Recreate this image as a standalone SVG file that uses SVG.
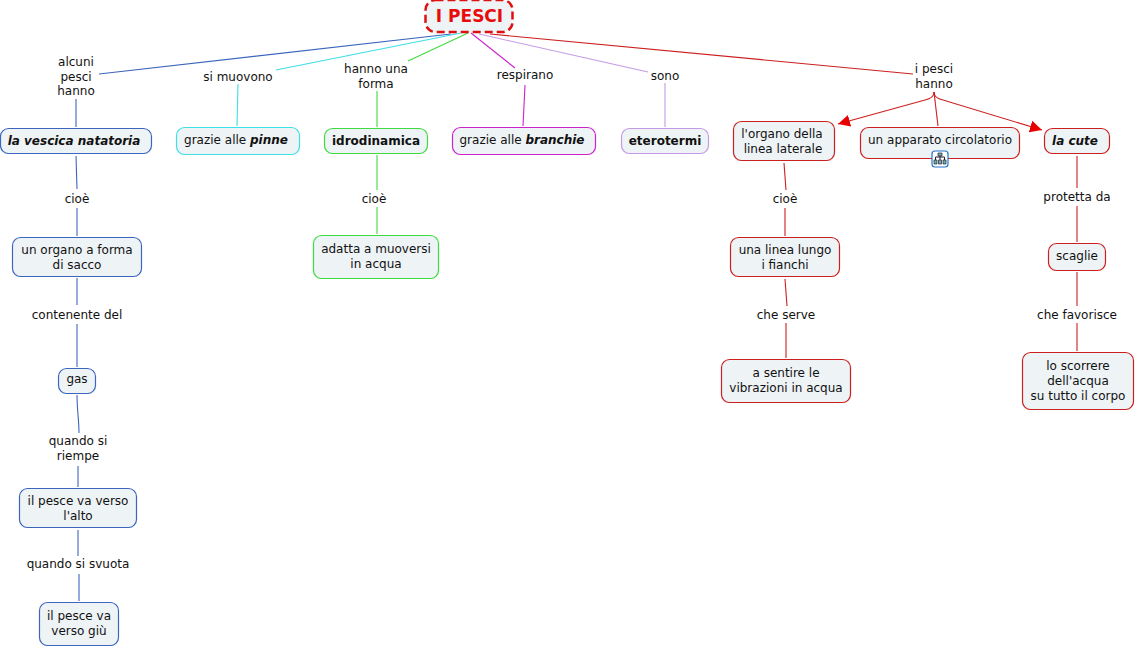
<svg xmlns="http://www.w3.org/2000/svg" width="1136" height="647" viewBox="0 0 1136 647">
<style>
text{font-family:"DejaVu Sans",Verdana,sans-serif;font-size:12px;fill:#111;text-anchor:middle}
.b{font-weight:700}.bi{font-weight:700;font-style:italic}
rect{fill:#eef3f6;stroke-width:1.2}
.blue rect{stroke:#3c66bd}.cyan rect{stroke:#3fdfe6}.green rect{stroke:#3fdc3f}.mag rect{stroke:#cc22cc}.lil rect{stroke:#c49ae6}.red rect{stroke:#cc1f1f}
#connectors path{fill:none;stroke-width:1.1}
.cb{stroke:#3c66bd}.cc{stroke:#3fdfe6}.cg{stroke:#3fdc3f}.cm{stroke:#cc22cc}.cl{stroke:#c49ae6}.cr{stroke:#cc1f1f}
</style>
<defs><marker id="ah" markerUnits="userSpaceOnUse" markerWidth="14" markerHeight="13" refX="12" refY="6" orient="auto"><path d="M0 0L12 6L0 12z" fill="#e80000"/></marker></defs>
<g id="connectors">
<path class="cb" d="M451 34L99 74"/><path class="cb" d="M76 99V127"/><path class="cb" d="M76 156L77 189"/><path class="cb" d="M77 208V236"/><path class="cb" d="M77 278V305"/><path class="cb" d="M77 324V367"/><path class="cb" d="M77 395C77 410 79 420 79 433"/><path class="cb" d="M78 466V487"/><path class="cb" d="M78 530V556"/><path class="cb" d="M79 574V601"/>
<path class="cc" d="M461 33L276 70"/><path class="cc" d="M238 84L237 126"/>
<path class="cg" d="M468 33L408 61"/><path class="cg" d="M377 91V127"/><path class="cg" d="M377 155V190"/><path class="cg" d="M377 207V234"/>
<path class="cm" d="M471 33L515 68"/><path class="cm" d="M525 85L523 126"/>
<path class="cl" d="M479 34L648 72"/><path class="cl" d="M665 83V127"/>
<path class="cr" d="M490 34L913 74"/>
<path class="cr" d="M934 92C934 97 930 99 925 100L838 124" marker-end="url(#ah)"/><path class="cr" d="M934 92L938 126"/><path class="cr" d="M934 92C934 97 938 99 943 100L1042 130" marker-end="url(#ah)"/>
<path class="cr" d="M784 163L786 190"/><path class="cr" d="M785 208V236"/><path class="cr" d="M785 279L787 306"/><path class="cr" d="M786 323V358"/>
<path class="cr" d="M1077 156V188"/><path class="cr" d="M1077 206V242"/><path class="cr" d="M1077 272V306"/><path class="cr" d="M1077 323V351"/>
</g>
<g id="n-root" class="red"><rect x="425.500" y="0" width="87" height="32" rx="10" style="stroke:#e01010;stroke-width:2.500;stroke-dasharray:8 4"/><text x="469.500" y="22" class="b" style="font-size:17px;fill:#e80c0c">I PESCI</text></g>
<g id="l1"><text x="76" y="66">alcuni</text><text x="76" y="81">pesci</text><text x="76" y="95">hanno</text></g>
<g id="l2"><text x="238" y="81">si muovono</text></g>
<g id="l3"><text x="376" y="73">hanno una</text><text x="376" y="88">forma</text></g>
<g id="l4"><text x="525" y="79">respirano</text></g>
<g id="l5"><text x="665" y="80">sono</text></g>
<g id="l6"><text x="934" y="73">i pesci</text><text x="934" y="88">hanno</text></g>
<g id="n-vescica" class="blue"><rect x="0.500" y="128.500" width="151" height="25" rx="8"/><text x="74" y="145" class="bi">la vescica natatoria</text></g>
<g id="n-pinne" class="cyan"><rect x="176.500" y="127.500" width="123" height="27" rx="8"/><text x="236" y="144">grazie alle <tspan class="bi">pinne</tspan></text></g>
<g id="n-idro" class="green"><rect x="324.500" y="128.500" width="103" height="25" rx="8"/><text x="376" y="145" class="b">idrodinamica</text></g>
<g id="n-branchie" class="mag"><rect x="452.500" y="127.500" width="143" height="27" rx="8"/><text x="522" y="144">grazie alle <tspan class="bi">branchie</tspan></text></g>
<g id="n-etero" class="lil"><rect x="621.500" y="128.500" width="87" height="25" rx="8"/><text x="665" y="145" class="b">eterotermi</text></g>
<g id="n-organo" class="red"><rect x="733.500" y="121.500" width="101" height="39" rx="8"/><text x="782" y="138">l'organo della</text><text x="783" y="153">linea laterale</text></g>
<g id="n-circ" class="red"><rect x="860.500" y="127.500" width="159" height="31" rx="8"/><text x="940" y="144">un apparato circolatorio</text>
<g id="icon"><rect x="932" y="151" width="16" height="16" rx="3" style="fill:#fff;stroke:#2277cc"/><path d="M940 153V156M935.500 160V157H944.500V160M940 156V160" style="fill:none;stroke:#223;stroke-width:1"/><path d="M938 153h4v3h-4zM934 160h3v4h-3zM938.500 160h3v4h-3zM943 160h3v4h-3z" style="fill:#7aa;stroke:#223;stroke-width:.7"/></g></g>
<g id="n-cute" class="red"><rect x="1044.500" y="128.500" width="65" height="25" rx="8"/><text x="1075" y="145" class="bi">la cute</text></g>
<g id="l7"><text x="77" y="203">cioè</text></g>
<g id="n-sacco" class="blue"><rect x="12.500" y="237.500" width="129" height="39" rx="8"/><text x="77" y="254">un organo a forma</text><text x="77" y="269">di sacco</text></g>
<g id="l8"><text x="77" y="319">contenente del</text></g>
<g id="n-gas" class="blue"><rect x="58.500" y="368.500" width="37" height="25" rx="8"/><text x="77" y="383">gas</text></g>
<g id="l9"><text x="78" y="445">quando si</text><text x="78" y="460">riempe</text></g>
<g id="n-alto" class="blue"><rect x="19.500" y="488.500" width="117" height="39" rx="8"/><text x="78" y="505">il pesce va verso</text><text x="78" y="520">l'alto</text></g>
<g id="l10"><text x="78" y="568">quando si svuota</text></g>
<g id="n-giu" class="blue"><rect x="39.500" y="602.500" width="79" height="43" rx="8"/><text x="79" y="620">il pesce va</text><text x="79" y="635">verso giù</text></g>
<g id="l11"><text x="374" y="203">cioè</text></g>
<g id="n-adatta" class="green"><rect x="313.500" y="235.500" width="125" height="43" rx="8"/><text x="376" y="253">adatta a muoversi</text><text x="376" y="268">in acqua</text></g>
<g id="l12"><text x="785" y="203">cioè</text></g>
<g id="n-linea" class="red"><rect x="730.500" y="237.500" width="109" height="39" rx="8"/><text x="785" y="254">una linea lungo</text><text x="785" y="269">i fianchi</text></g>
<g id="l13"><text x="786" y="319">che serve</text></g>
<g id="n-vibra" class="red"><rect x="721.500" y="359.500" width="129" height="43" rx="8"/><text x="786" y="377">a sentire le</text><text x="786" y="392">vibrazioni in acqua</text></g>
<g id="l14"><text x="1077" y="201">protetta da</text></g>
<g id="n-scaglie" class="red"><rect x="1048.500" y="243.500" width="57" height="27" rx="8"/><text x="1077" y="260">scaglie</text></g>
<g id="l15"><text x="1077" y="319">che favorisce</text></g>
<g id="n-scorrere" class="red"><rect x="1022.500" y="352.500" width="111" height="57" rx="8"/><text x="1078" y="370">lo scorrere</text><text x="1078" y="385">dell'acqua</text><text x="1078" y="400">su tutto il corpo</text></g>
</svg>
